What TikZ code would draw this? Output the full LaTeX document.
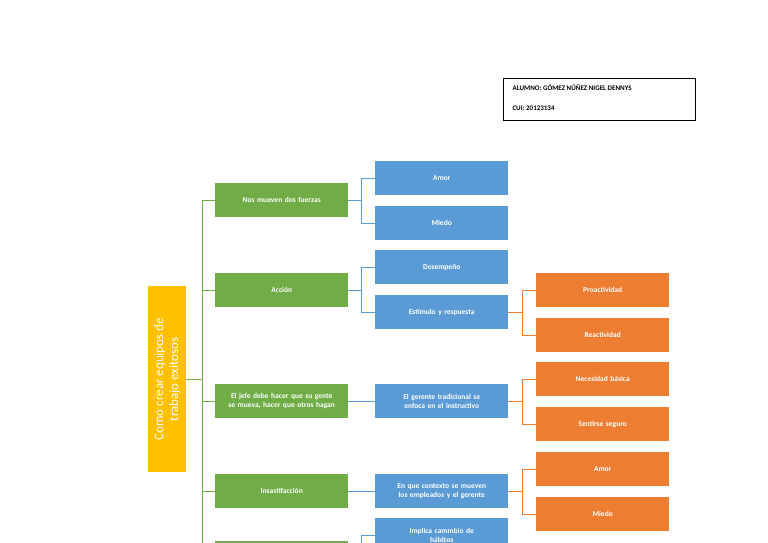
\documentclass[tikz,border=0pt]{standalone}
\usepackage{fontspec}
\setmainfont{Carlito}
\definecolor{gr}{HTML}{70AD47}
\definecolor{bl}{HTML}{5B9BD5}
\definecolor{og}{HTML}{ED7D31}
\definecolor{yl}{HTML}{FFC000}
\tikzset{
 bx/.style={minimum width=133pt,minimum height=34pt,inner sep=1pt,text=white,font=\fontsize{7.5}{9}\selectfont\bfseries,align=center,text width=128pt,anchor=north west},
 gbox/.style={bx,fill=gr},
 bbox/.style={bx,fill=bl},
 obox/.style={bx,fill=og},
 gl/.style={draw=gr,line width=0.8pt},
 bll/.style={draw=bl,line width=0.8pt},
 ol/.style={draw=og,line width=0.8pt},
}
\begin{document}
\begin{tikzpicture}[x=1pt,y=-1pt]
\useasboundingbox (0,0) rectangle (768,543);
\clip (0,0) rectangle (768,543);
% header
\node[draw,line width=0.6pt,minimum width=192pt,minimum height=42pt,anchor=north west,inner sep=0pt] (hdr) at (503,78) {};
\node[anchor=west,font=\fontsize{7}{8}\selectfont\bfseries] (al) at (509,88) {ALUMNO: GÓMEZ NÚÑEZ NIGEL DENNYS};
\node[anchor=west,font=\fontsize{7}{8}\selectfont\bfseries] (cui) at (509,108) {CUI: 20123134};
% root
\node[fill=yl,minimum width=38pt,minimum height=186pt,anchor=north west,inner sep=0pt] (root) at (148,286) {};
\node[rotate=90,text=white,font=\fontsize{13}{15}\selectfont,align=center] (rt) at (root.center) {Como crear equipos de\\trabajo exitosos};
% level 1
\node[gbox] (g1) at (215,183) {Nos mueven dos fuerzas};
\node[gbox] (g2) at (215,273) {Acción};
\node[gbox] (g3) at (215,384) {El jefe debe hacer que su gente se mueva, hacer que otros hagan};
\node[gbox] (g4) at (215,474) {Insastifacción};
\node[gbox] (g5) at (215,541) {};
% level 2
\node[bbox] (b1) at (375,161) {Amor};
\node[bbox] (b2) at (375,206) {Miedo};
\node[bbox] (b3) at (375,250) {Desempeño};
\node[bbox] (b4) at (375,295) {Estímulo y respuesta};
\node[bbox] (b5) at (375,384) {El gerente tradicional se enfoca en el instructivo};
\node[bbox] (b6) at (375,474) {En que contexto se mueven los empleados y el gerente};
\node[bbox] (b7) at (375,518) {Implica cammbio de\\hábitos};
% level 3
\node[obox] (o1) at (536,273) {Proactividad};
\node[obox] (o2) at (536,318) {Reactividad};
\node[obox] (o3) at (536,362) {Necesidad básica};
\node[obox] (o4) at (536,407) {Sentirse seguro};
\node[obox] (o5) at (536,452) {Amor};
\node[obox] (o6) at (536,497) {Miedo};
% root connectors
\coordinate (rb) at (202,560);
\draw[gl] (root.east) -- ++(16,0);
\draw[gl] (g1.west) -| (rb);
\foreach \g in {g2,g3,g4,g5} \draw[gl] (\g.west) -- (\g.west -| rb);
% blue connectors
\foreach \s/\a/\b in {g1/b1/b2,g2/b3/b4} {
 \draw[bll] (\s.east) -- ++(13,0) coordinate (m);
 \draw[bll] (\a.west) -| (m) |- (\b.west);
}
\draw[bll] (g3.east) -- (b5.west);
\draw[bll] (g4.east) -- (b6.west);
\draw[bll] (g5.east) -- ++(13,0) coordinate (m5);
\draw[bll] (b7.west) -| (m5);
% orange connectors
\foreach \s/\a/\b in {b4/o1/o2,b5/o3/o4,b6/o5/o6} {
 \draw[ol] (\s.east) -- ++(14,0) coordinate (m);
 \draw[ol] (\a.west) -| (m) |- (\b.west);
}
\end{tikzpicture}
\end{document}
